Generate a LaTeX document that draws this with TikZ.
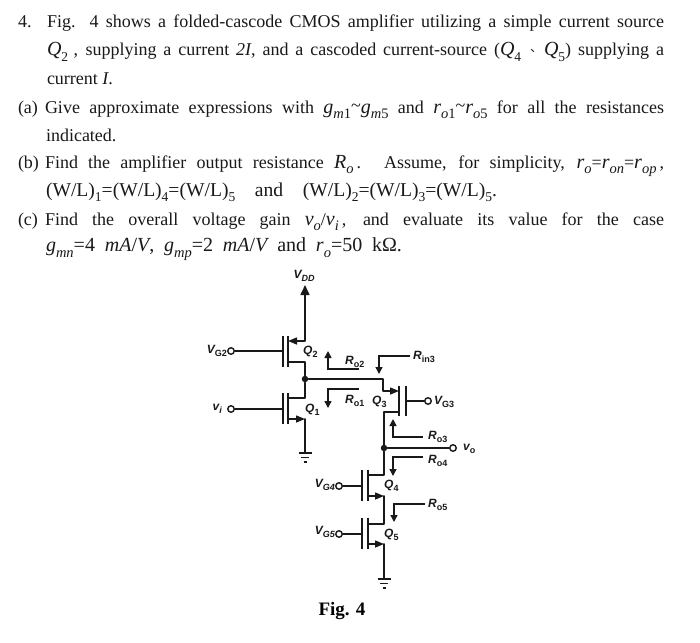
\documentclass[tikz,border=0pt]{standalone}
\usepackage{fontspec}
\setmainfont{Liberation Serif}
\setsansfont{Liberation Sans}
\newfontfamily\cjkfont{Noto Sans CJK TC}
\usetikzlibrary{arrows.meta}
\newcommand{\ssb}[1]{\raisebox{-0.28em}{\fontsize{13.5}{14}\selectfont #1}}
\newcommand{\mi}[1]{{\fontsize{20}{20}\selectfont\itshape #1}}
\newcommand{\isb}[2][]{\raisebox{-0.3em}{\fontsize{14.5}{15}\selectfont{\itshape #2}#1}}
\newcommand{\tld}{\raisebox{0.1em}{\hbox{\char"007E}}}
\newcommand{\lsb}[1]{\raisebox{-0.22em}{\fontsize{9}{10}\selectfont\upshape #1}}
\newcommand{\lsbi}[1]{\raisebox{-0.22em}{\fontsize{9}{10}\selectfont\itshape #1}}
\newcommand{\jl}[4]{\node[txt,anchor=base west] (#1) at (#2,#3) {\makebox[\dimexpr664pt-#2pt\relax][s]{#4}};}
\newcommand{\wl}[5]{\node[txt,anchor=base west] (#1) at (#2,#3) {\makebox[#4pt][s]{#5}};}
\newcommand{\fl}[4]{\node[txt,anchor=base west] (#1) at (#2,#3) {#4};}
\tikzset{
  txt/.style={inner sep=0pt,outer sep=0pt,font=\fontsize{18}{20}\selectfont,text=black!90},
  lab/.style={inner sep=0pt,font=\sffamily\bfseries\itshape\fontsize{12}{13}\selectfont,text=black!90},
  wire/.style={line width=1.6pt,black!90,line cap=round,line join=round},
  bar/.style={line width=1.7pt,black!90},
  sense/.style={line width=1.4pt,black!90,-{Triangle[length=7pt,width=7pt]}},
  fet/.style={line width=1.4pt,black!90,-{Triangle[length=9pt,width=7pt]}},
  term/.style={circle,draw=black!90,line width=1.4pt,fill=white,minimum size=6.5pt,inner sep=0pt},
  dotn/.style={circle,fill=black!90,minimum size=6.5pt,inner sep=0pt},
}
\begin{document}
\begin{tikzpicture}[x=1pt,y=-1pt]
\useasboundingbox (0,0) rectangle (700,642);
\fill[white] (0,0) rectangle (700,642);
% problem text
\fl{n0}{18}{28}{4.}
\jl{l1}{47}{28}{Fig. 4 shows a folded-cascode CMOS amplifier utilizing a simple current source}
\jl{l2}{47}{56}{\mi{Q}\ssb{2}\hspace{0.3em}, supplying a current \textit{2I}, and a cascoded current-source (\mi{Q}\ssb{4}\hspace{0.3em}{\cjkfont\fontsize{12}{12}\selectfont 、}\hspace{0.3em}\mi{Q}\ssb{5}) supplying a}
\fl{l3}{47}{84}{current \textit{I}.}
\fl{a0}{18}{113}{(a)}
\jl{l4}{45}{113}{Give approximate expressions with \mi{g}\isb[1]{m}\tld\mi{g}\isb[5]{m} and \mi{r}\isb[1]{o}\tld\mi{r}\isb[5]{o} for all the resistances}
\fl{l5}{46}{141}{indicated.}
\fl{b0}{18}{168}{(b)}
\jl{l6}{45}{168}{Find the amplifier output resistance \mi{R}\isb{o}\,. Assume, for simplicity, \mi{r}\isb{o}=\mi{r}\isb{on}=\mi{r}\isb{op}\,,}
\wl{l7}{46}{196}{451}{\fontsize{19.6}{20}\selectfont (W/L)\ssb{1}=(W/L)\ssb{4}=(W/L)\ssb{5} and (W/L)\ssb{2}=(W/L)\ssb{3}=(W/L)\ssb{5}.}
\fl{c0}{18}{225}{(c)}
\jl{l8}{45}{225}{Find the overall voltage gain \mi{v}\isb{o}/\mi{v}\isb{i}\,, and evaluate its value for the case}
\wl{l9}{46}{251}{356}{\fontsize{20}{20}\selectfont \mi{g}\isb{mn}=4 \mi{mA}/\mi{V}, \mi{g}\isb{mp}=2 \mi{mA}/\mi{V} and \mi{r}\isb{o}=50 kΩ.}
% junctions and terminals
\node[dotn] (n1) at (305,379) {};
\node[dotn] (n2) at (384,448) {};
\node[term] (tg2) at (231,351) {};
\node[term] (ti) at (231,409) {};
\node[term] (tg3) at (428,401) {};
\node[term] (to) at (453,448) {};
\node[term] (tg4) at (339,486) {};
\node[term] (tg5) at (339,534) {};
\coordinate (vdd) at (305,285);
% Q2
\coordinate (q2s) at (305,341); \coordinate (q2sc) at (288,341);
\coordinate (q2d) at (305,362); \coordinate (q2dc) at (288,362);
\coordinate (q2g) at (283,351);
\draw[bar] (288,336) -- (288,367); \draw[bar] (283,336) -- (283,367);
\draw[wire] (n1) -- (q2d) -- (q2dc);
\draw[wire,-{Triangle[length=10pt,width=9pt]}] (q2s) -- (vdd);
\draw[fet] (q2s) -- (q2sc);
\draw[wire] (tg2) -- (q2g);
% Q1
\coordinate (q1d) at (305,398); \coordinate (q1dc) at (288,398);
\coordinate (q1s) at (305,419); \coordinate (q1sc) at (288,419);
\coordinate (q1g) at (283,409); \coordinate (g1) at (305,453);
\draw[bar] (288,393) -- (288,424); \draw[bar] (283,393) -- (283,424);
\draw[wire] (n1) -- (q1d) -- (q1dc);
\draw[wire] (q1s) -- (g1);
\draw[fet] (q1sc) -- (q1s);
\draw[wire] (ti) -- (q1g);
% Q3
\coordinate (t1) at (383,379); \coordinate (q3s) at (383,391); \coordinate (q3sc) at (399,391);
\coordinate (q3d) at (384,412); \coordinate (q3dc) at (399,412); \coordinate (q3g) at (406,401);
\draw[bar] (399,386) -- (399,416); \draw[bar] (406,386) -- (406,416);
\draw[wire] (n1) -- (t1) -- (q3s);
\draw[fet] (q3s) -- (q3sc);
\draw[wire] (q3dc) -- (q3d) -- (n2);
\draw[wire] (q3g) -- (tg3);
\draw[wire] (n2) -- (to);
% Q4
\coordinate (q4d) at (384,475); \coordinate (q4dc) at (368,475);
\coordinate (q4s) at (384,496); \coordinate (q4sc) at (368,496); \coordinate (q4g) at (362,486);
\draw[bar] (368,470) -- (368,501); \draw[bar] (362,470) -- (362,501);
\draw[wire] (n2) -- (q4d) -- (q4dc);
\draw[fet] (q4sc) -- (q4s);
\draw[wire] (tg4) -- (q4g);
% Q5
\coordinate (q5d) at (384,524); \coordinate (q5dc) at (368,524);
\coordinate (q5s) at (384,544); \coordinate (q5sc) at (368,544); \coordinate (q5g) at (362,534);
\coordinate (g5) at (384,579);
\draw[bar] (368,518) -- (368,549); \draw[bar] (362,518) -- (362,549);
\draw[wire] (q4s) -- (q5d) -- (q5dc);
\draw[fet] (q5sc) -- (q5s);
\draw[wire] (q5s) -- (g5);
\draw[wire] (tg5) -- (q5g);
% grounds
\foreach \g in {g1,g5}{
  \draw[line width=1.5pt,black!90] ([xshift=-6.5pt]\g) -- ([xshift=6.5pt]\g);
  \draw[line width=1.3pt,black!90] ([xshift=-4pt,yshift=-4.5pt]\g) -- ([xshift=4pt,yshift=-4.5pt]\g);
  \draw[line width=1.3pt,black!90] ([xshift=-1.5pt,yshift=-9pt]\g) -- ([xshift=1.5pt,yshift=-9pt]\g);
}
% resistance labels and sense arrows
\node[lab,anchor=west] (ro2) at (345,362) {R\lsb{o2}};
\node[lab,anchor=west] (rin3) at (413,357) {R\lsb{in3}};
\node[lab,anchor=west] (ro1) at (345,401) {R\lsb{o1}};
\node[lab,anchor=west] (ro3) at (428,437) {R\lsb{o3}};
\node[lab,anchor=west] (ro4) at (428,461) {R\lsb{o4}};
\node[lab,anchor=west] (ro5) at (428,505) {R\lsb{o5}};
\coordinate (a1) at (359,369); \coordinate (a1b) at (328,369); \coordinate (a1e) at (328,351);
\draw[sense] (a1) -- (a1b) -- (a1e);
\coordinate (a2) at (359,389); \coordinate (a2b) at (328,389); \coordinate (a2e) at (328,408);
\draw[sense] (a2) -- (a2b) -- (a2e);
\coordinate (a3) at (410,356); \coordinate (a3b) at (379,356); \coordinate (a3e) at (379,374);
\draw[sense] (a3) -- (a3b) -- (a3e);
\coordinate (a4) at (423,437); \coordinate (a4b) at (393,437); \coordinate (a4e) at (393,419);
\draw[sense] (a4) -- (a4b) -- (a4e);
\coordinate (a5) at (423,457); \coordinate (a5b) at (393,457); \coordinate (a5e) at (393,476);
\draw[sense] (a5) -- (a5b) -- (a5e);
\coordinate (a6) at (425,504); \coordinate (a6b) at (394,504); \coordinate (a6e) at (394,522);
\draw[sense] (a6) -- (a6b) -- (a6e);
% device and terminal labels
\node[lab] (vddl) at (304,276) {V\lsbi{DD}};
\node[lab,anchor=east] (vg2l) at (227,351) {V\lsb{G2}};
\node[lab,anchor=east] (vil) at (222,409) {v\lsbi{i}};
\node[lab,anchor=west] (vg3l) at (434,402) {V\lsb{G3}};
\node[lab,anchor=west] (vol) at (463,449) {v\lsb{o}};
\node[lab,anchor=east] (vg4l) at (335,485) {V\lsbi{G4}};
\node[lab,anchor=east] (vg5l) at (335,532) {V\lsbi{G5}};
\node[lab,anchor=west] (q2l) at (303,352) {Q\lsb{2}};
\node[lab,anchor=west] (q1l) at (305,410) {Q\lsb{1}};
\node[lab,anchor=west] (q3l) at (372,402) {Q\lsb{3}};
\node[lab,anchor=west] (q4l) at (384,486) {Q\lsb{4}};
\node[lab,anchor=west] (q5l) at (384,535) {Q\lsb{5}};
\node[inner sep=0pt,font=\bfseries\fontsize{19}{20}\selectfont] (fig) at (342,611) {Fig. 4};
\end{tikzpicture}
\end{document}
